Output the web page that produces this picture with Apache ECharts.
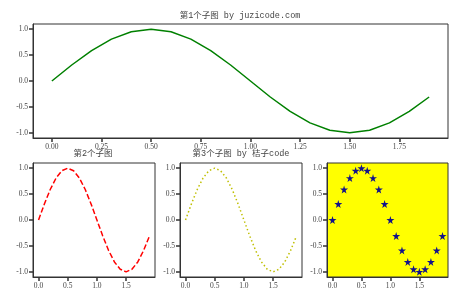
<!DOCTYPE html>
<html>
<head>
<meta charset="utf-8">
<script src="https://cdn.jsdelivr.net/npm/echarts@6/dist/echarts.min.js"></script>
<style>html,body{margin:0;padding:0;background:#fff;}#c{width:474px;height:300px;}</style>
</head>
<body>
<div id="c"></div>
<script>
var xs = [0,0.1,0.2,0.3,0.4,0.5,0.6,0.7,0.8,0.9,1.0,1.1,1.2,1.3,1.4,1.5,1.6,1.7,1.8,1.9];
var ys = [0,0.309,0.588,0.809,0.951,1,0.951,0.809,0.588,0.309,0,-0.309,-0.588,-0.809,-0.951,-1,-0.951,-0.809,-0.588,-0.309];
var topXTicks = [0,0.25,0.5,0.75,1.0,1.25,1.5,1.75];
var bottomXTicks = [0,0.5,1.0,1.5];
var yTicks = [-1,-0.5,0,0.5,1];
var titles = ['第1个子图 by juzicode.com', '第2个子图', '第3个子图 by 桔子code'];

var pts = xs.map(function(x,i){return [x, ys[i]];});
var TXT = '#444';
var FONT = '"Liberation Serif", "Noto Sans CJK SC", serif';
var TFONT = '"Liberation Mono", "Noto Sans CJK SC", monospace';

var grids = [
  {left:33, top:24, width:415, height:114},
  {left:33, top:163, width:122, height:114},
  {left:180, top:163, width:122, height:114},
  {left:327, top:163, width:121, height:114, backgroundColor:'#ffff00'}
];
grids.forEach(function(g){ g.show = true; g.borderColor = '#333'; g.borderWidth = 1; if(!g.backgroundColor) g.backgroundColor = 'transparent'; });

function xAxis(i, ticks, dec){
  return {type:'value', gridIndex:i, min:-0.095, max:1.995, position:'bottom',
    axisLine:{show:true, onZero:false, lineStyle:{color:'#333', width:1}}, splitLine:{show:false},
    axisTick:{show:true, inside:false, length:4, lineStyle:{color:'#333', width:1.5}, customValues:ticks},
    axisLabel:{show:true, customValues:ticks, color:TXT, fontSize:7.5, fontFamily:FONT, margin:5,
      formatter:function(v){return Number(v).toFixed(dec);}}};
}
function yAxis(i){
  return {type:'value', gridIndex:i, min:-1.1, max:1.1, position:'left',
    axisLine:{show:true, onZero:false, lineStyle:{color:'#333', width:1}}, splitLine:{show:false},
    axisTick:{show:true, inside:false, length:4, lineStyle:{color:'#333', width:1.5}, customValues:yTicks},
    axisLabel:{show:true, customValues:yTicks, color:TXT, fontSize:7.5, fontFamily:FONT, margin:5,
      formatter:function(v){return Number(v).toFixed(1);}}};
}

var option = {
  animation:false,
  grid: grids,
  xAxis: [xAxis(0, topXTicks, 2), xAxis(1, bottomXTicks, 1), xAxis(2, bottomXTicks, 1), xAxis(3, bottomXTicks, 1)],
  yAxis: [yAxis(0), yAxis(1), yAxis(2), yAxis(3)],
  graphic: [
    {type:'text', x:240, y:16, style:{text:titles[0], fill:TXT, font:'8.5px ' + TFONT, textAlign:'center', textVerticalAlign:'middle'}},
    {type:'text', x:93, y:154, style:{text:titles[1], fill:TXT, font:'8.5px ' + TFONT, textAlign:'center', textVerticalAlign:'middle'}},
    {type:'text', x:241, y:154, style:{text:titles[2], fill:TXT, font:'8.5px ' + TFONT, textAlign:'center', textVerticalAlign:'middle'}}
  ],
  series: [
    {type:'line', xAxisIndex:0, yAxisIndex:0, data:pts, showSymbol:false, symbol:'none',
      lineStyle:{color:'#008000', width:1.5}},
    {type:'line', xAxisIndex:1, yAxisIndex:1, data:pts, showSymbol:false, symbol:'none',
      lineStyle:{color:'#f00', width:1.5, type:[5.5,2.4]}},
    {type:'line', xAxisIndex:2, yAxisIndex:2, data:pts, showSymbol:false, symbol:'none',
      lineStyle:{color:'#bfbf00', width:1.5, type:[1.5,2.5]}},
    {type:'scatter', xAxisIndex:3, yAxisIndex:3, data:pts,
      symbol:'path://M50,0 L61,35 L98,35 L68,57 L79,91 L50,70 L21,91 L32,57 L2,35 L39,35 Z',
      symbolSize:8, itemStyle:{color:'#12128a', opacity:1}}
  ]
};
var chart = echarts.init(document.getElementById('c'), null, {renderer:'canvas'});
chart.setOption(option);
</script>
</body>
</html>
